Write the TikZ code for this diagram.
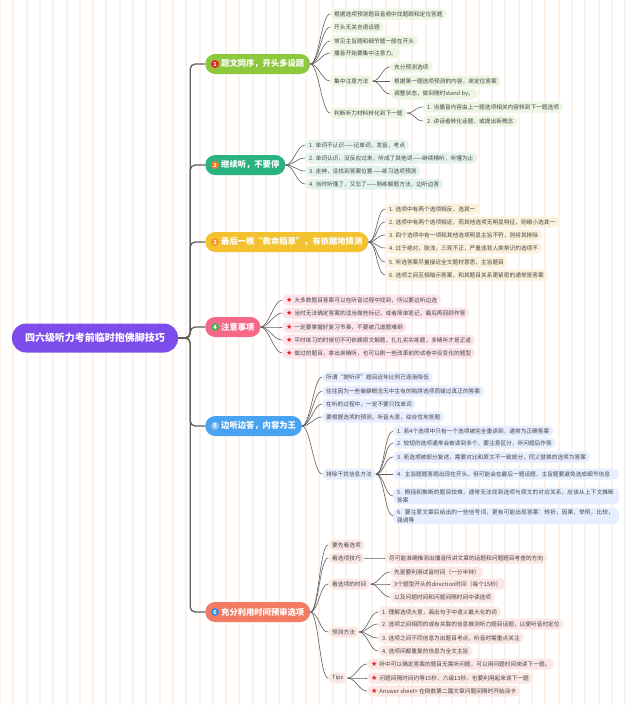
\documentclass[tikz,border=0pt]{standalone}
\usepackage{fontspec}
\setmainfont{Noto Sans CJK SC}
\newfontfamily\sym{DejaVu Sans}
\XeTeXlinebreaklocale "zh"
\XeTeXlinebreakskip=0pt plus 1pt
\usepackage{tikz}
\usetikzlibrary{calc}
\definecolor{zigen}{RGB}{124,77,235}
\definecolor{lv}{RGB}{142,200,60}
\definecolor{qing}{RGB}{42,178,128}
\definecolor{huang}{RGB}{242,194,48}
\definecolor{fen}{RGB}{246,104,136}
\definecolor{lan}{RGB}{74,163,240}
\definecolor{ju}{RGB}{244,123,99}
\definecolor{lvqian}{RGB}{236,246,226}
\definecolor{qingqian}{RGB}{228,243,236}
\definecolor{huangqian}{RGB}{251,241,220}
\definecolor{fenqian}{RGB}{253,228,234}
\definecolor{lanqian}{RGB}{230,238,255}
\definecolor{juqian}{RGB}{251,232,229}
\definecolor{wenzi}{RGB}{70,70,70}
\definecolor{xian}{RGB}{95,95,95}
\definecolor{gezi}{RGB}{253,242,232}
\definecolor{xinghong}{RGB}{226,28,36}
\definecolor{tb1}{RGB}{228,36,40}
\definecolor{tb2}{RGB}{245,120,40}
\definecolor{tb3}{RGB}{246,150,30}
\definecolor{tb4}{RGB}{80,176,96}
\definecolor{tb5}{RGB}{140,196,246}
\definecolor{tb6}{RGB}{60,140,230}
\newcommand{\xing}{{\sym\fontsize{7}{7}\selectfont\textcolor{xinghong}{★}}\hspace{2pt}}

\begin{document}
\begin{tikzpicture}[x=1pt,y=-1pt,
  zhugan/.style={rounded corners=14pt, fill=zigen, text=white, font=\fontsize{10}{12}\selectfont\bfseries, minimum height=29pt, inner xsep=13pt},
  zhi/.style={rounded corners=10pt, text=white, font=\fontsize{8.3}{10}\selectfont\bfseries, minimum height=20pt, inner xsep=6pt, anchor=west},
  ye/.style={rounded corners=5.5pt, text=wenzi, font=\fontsize{5.7}{8.3}\selectfont, minimum height=11pt, inner xsep=4pt, inner ysep=1.5pt, anchor=west},
  tubiao/.style={circle, inner sep=0pt, minimum size=8pt, text=white, font=\fontsize{5.5}{6}\selectfont\bfseries},
  lian/.style={draw=xian, line width=0.6pt},
  gan/.style={draw=xian, line width=1.3pt, rounded corners=5pt}
]
\useasboundingbox (0,0) rectangle (630,705);
% background
\fill[white] (0,0) rectangle (630,705);
\draw[gezi, line width=2pt, step=13.3] (0,0) grid (630,705);

% root and branches
\node[zhugan] (root) at (95,338) {四六级听力考前临时抱佛脚技巧};
\node[zhi, fill=lv] (b1) at (205,64) {\hspace{10pt}题文同序，开头多设题};
\node[zhi, fill=qing] (b2) at (205,165) {\hspace{10pt}继续听，不要停};
\node[zhi, fill=huang] (b3) at (205,242) {\hspace{10pt}最后一根“救命稻草”，有依据地猜测};
\node[zhi, fill=fen] (b4) at (205,327) {\hspace{10pt}注意事项};
\node[zhi, fill=lan] (b5) at (205,426) {\hspace{10pt}边听边答，内容为王};
\node[zhi, fill=ju] (b6) at (205,612) {\hspace{10pt}充分利用时间预审选项};
\foreach \b/\c/\n in {b1/tb1/1,b2/tb2/2,b3/tb3/3,b4/tb4/4,b5/tb5/5,b6/tb6/6}{
  \node[tubiao, fill=\c] (i\n) at ($(\b.west)+(10,0)$) {\n};
  \draw[gan] (root.east) -- ++(12,0) |- (\b.west);
}

% 1
\begin{scope}[every node/.style={ye, fill=lvqian}]
\node (b1a) at (330,14) {根据选项预测题目音频中找题眼和定位答题};
\node (b1b) at (330,27) {开头无关言语设题};
\node (b1c) at (330,41) {常见主旨题和细节题一般在开头};
\node (b1d) at (330,53) {播音开始要集中注意力。};
\node (b1e) at (330,81) {集中注意方法};
\node (b1e1) at (390,67) {充分预测选项};
\node (b1e2) at (390,81) {根据第一题选项预测的内容，来定位答案};
\node (b1e3) at (390,94) {调整状态，做到随时stand by。};
\node (b1f) at (330,113) {判断听力材料转化到下一题};
\node (b1f1) at (423,107) {1. 当播音内容由上一题选项相关内容转到下一题选项};
\node (b1f2) at (423,121) {2. 讲话者转化话题，或提出新概念};
\end{scope}

% 2
\begin{scope}[every node/.style={ye, fill=qingqian}]
\node (b2a) at (305,145) {1. 单词不认识——记单词，发音，考点};
\node (b2b) at (305,158) {2. 单词认识，没反应过来，听成了其他词——继续精听，听懂为止};
\node (b2c) at (305,171) {3. 走神，没找到答案位置——练习选项预测};
\node (b2d) at (305,184) {4. 当时听懂了，又忘了——熟练解题方法，边听边答};
\end{scope}

% 3
\begin{scope}[every node/.style={ye, fill=huangqian}]
\node (b3a) at (385,209) {1. 选项中有两个选项相反，选其一};
\node (b3b) at (385,222) {2. 选项中有两个选项相近，而其他选项无明显特征，则缩小选其一};
\node (b3c) at (385,235) {3. 四个选项中有一项和其他选项明显主旨不符，则将其排除};
\node (b3d) at (385,248) {4. 过于绝对，肤浅，三观不正，严重违背人类常识的选项不};
\node (b3e) at (385,262) {5. 听选答案尽量接近全文题材意思，主旨题目};
\node (b3f) at (385,275) {6. 选项之间互相暗示答案，和其题目关系更紧密的通常是答案};
\end{scope}

% 4
\begin{scope}[every node/.style={ye, fill=fenqian}]
\node (b4a) at (282,300) {\xing 大多数题目答案可以在听音过程中找到，所以要边听边选};
\node (b4b) at (282,313) {\xing 当时无法确定答案的适当做些标记，或者简单笔记，最后再回顾作答};
\node (b4c) at (282,327) {\xing 一定要掌握好复习节奏，不要被几道题难倒};
\node (b4d) at (282,340) {\xing 平时练习的时候切不可依赖原文解题，扎扎实实练题，多精听才是正道};
\node (b4e) at (282,353) {\xing 做过的题目，拿出来精听，也可以刷一些改革前的试卷中没变化的题型};
\end{scope}

% 5
\begin{scope}[every node/.style={ye, fill=lanqian}]
\node (b5a) at (322,377) {所谓“提听评”题目近年比例已逐渐降低};
\node (b5b) at (322,391) {往往因为一些偏僻概念无中生有的陷阱选项而错过真正的答案};
\node (b5c) at (322,404) {在听的过程中，一定不要只找单词};
\node (b5d) at (322,417) {要根据选项的预测，听音大意，综合性地答题};
\node (b5e) at (322,474) {排除干扰信息方法};
\node (b5e1) at (393,431) {1. 若4个选项中只有一个选项被完全重读到，通常为正确答案};
\node (b5e2) at (393,443) {2. 较短的选项通常会被读到多个，要注意区分，听问题后作答};
\node (b5e3) at (393,457) {3. 若选项被部分复述，需要对比和原文不一致部分，同义替换的选项为答案};
\node[text width=218pt, align=left] (b5e4) at (393,474) {4. 主旨题题答题出现在开头，但可能会在最后一题设题，主旨题要避免选成细节信息};
\node[text width=218pt, align=left] (b5e5) at (393,496) {5. 概括和推断的题目较难，通常无法找到选项与原文的对应关系，应该从上下文推断答案};
\node[text width=218pt, align=left] (b5e6) at (393,516) {6. 要注意文章后给出的一些信号词，更有可能出现答案：转折，因果，举例，比较，强调等};
\end{scope}

% 6
\begin{scope}[every node/.style={ye, fill=juqian}]
\node (b6a) at (328,545) {要先看选项};
\node (b6b) at (328,558) {看选项技巧};
\node (b6b1) at (385,558) {尽可能准确推测出播音所讲文章的话题和问题题目考查的方向};
\node (b6c) at (328,584) {看选项的时间};
\node (b6c1) at (390,572) {先是要利用试音时间（一分半钟）};
\node (b6c2) at (390,584) {3个题型开头的direction时间（每个15秒）};
\node (b6c3) at (390,597) {以及问题时间和问题间隔时间中读选项};
\node (b6d) at (328,632) {预测方法};
\node (b6d1) at (378,612) {1. 理解选项大意，画出句子中语义最大化的词};
\node (b6d2) at (378,624) {2. 选项之间相同的或有关联的信息推测听力题目话题，以便听音时定位};
\node (b6d3) at (378,638) {3. 选项之间不同信息为出题目考点，听音时需重点关注};
\node (b6d4) at (378,651) {4. 选项间都重复的信息为全文主旨};
\node (b6e) at (328,678) {Tips};
\node (b6e1) at (367,664) {\xing 听中可以确定答案的题目无需听问题，可以用问题时间来读下一题。};
\node (b6e2) at (367,678) {\xing 问题间隔时间约等15秒，六级13秒，也要利用起来读下一题};
\node (b6e3) at (367,691) {\xing Answer sheet> 在倒数第二篇文章问题间隔时开始涂卡};
\end{scope}

% connectors
\foreach \p/\c in {b1/b1a,b1/b1b,b1/b1c,b1/b1d,b1/b1e,b1/b1f,b1e/b1e1,b1e/b1e2,b1e/b1e3,b1f/b1f1,b1f/b1f2,
  b2/b2a,b2/b2b,b2/b2c,b2/b2d,
  b3/b3a,b3/b3b,b3/b3c,b3/b3d,b3/b3e,b3/b3f,
  b4/b4a,b4/b4b,b4/b4c,b4/b4d,b4/b4e,
  b5/b5a,b5/b5b,b5/b5c,b5/b5d,b5/b5e,b5e/b5e1,b5e/b5e2,b5e/b5e3,b5e/b5e4,b5e/b5e5,b5e/b5e6,
  b6/b6a,b6/b6b,b6/b6c,b6/b6d,b6/b6e,b6b/b6b1,b6c/b6c1,b6c/b6c2,b6c/b6c3,
  b6d/b6d1,b6d/b6d2,b6d/b6d3,b6d/b6d4,b6e/b6e1,b6e/b6e2,b6e/b6e3}
  \draw[lian] (\p.east) .. controls +(8,0) and +(-8,0) .. (\c.west);
\end{tikzpicture}
\end{document}
